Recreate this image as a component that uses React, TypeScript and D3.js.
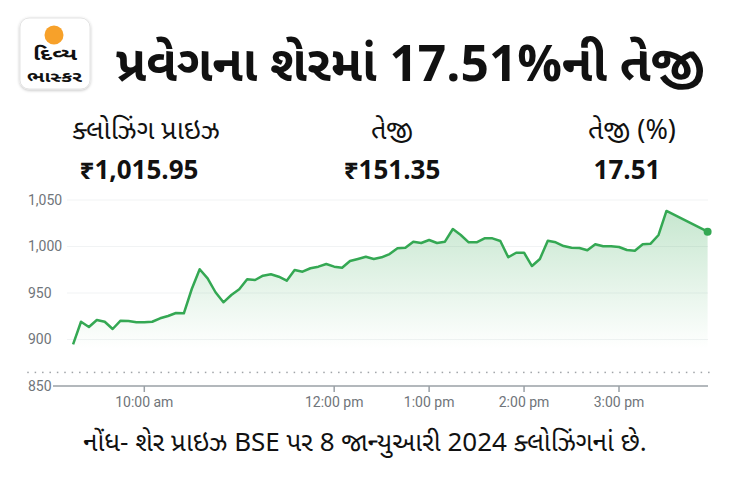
import React from "react";
import * as d3 from "d3";

const title = "પ્રવેગના શેરમાં 17.51%ની તેજી";
const statLabels = ["ક્લોઝિંગ પ્રાઇઝ", "તેજી", "તેજી (%)"];
const statValues = ["₹1,015.95", "₹151.35", "17.51"];
const footnote = "નોંધ- શેર પ્રાઇઝ BSE પર 8 જાન્યુઆરી 2024 ક્લોઝિંગનાં છે.";

const yTicks = [850, 900, 950, 1000, 1050];
const xTickMinutes = [600, 720, 780, 840, 900];
const xTickLabels = ["10:00 am", "12:00 pm", "1:00 pm", "2:00 pm", "3:00 pm"];
const previousClose = 864.6;

// 5-minute prices from 9:15 to 15:30
const prices = [
  894.8, 919.1, 913.4, 921.0, 919.1, 911.3, 920.2, 919.9, 918.5, 918.5,
  919.1, 922.8, 925.3, 928.5, 928.2, 954.3, 975.5, 965.8, 950.8, 940.0,
  947.8, 954.0, 964.7, 964.0, 968.6, 970.1, 967.5, 963.2, 974.7, 972.9,
  976.6, 978.3, 981.2, 978.3, 977.2, 984.4, 986.6, 989.0, 986.6, 988.4,
  991.9, 998.1, 998.7, 1005.2, 1003.8, 1007.0, 1003.8, 1005.2, 1018.8, 1012.4,
  1004.5, 1004.5, 1008.8, 1008.8, 1005.9, 988.4, 993.3, 993.3, 979.0, 986.6,
  1006.2, 1004.5, 1000.5, 998.7, 998.4, 995.9, 1002.4, 1000.2, 1000.2, 999.5,
  996.2, 995.5, 1002.4, 1003.0, 1012.4, 1038.2,
];
const closeMinute = 956;
const closePrice = 1015.95;

const startMinute = 555;
const data: { m: number; v: number }[] = prices.map((v, i) => ({ m: startMinute + i * 5, v }));
data.push({ m: closeMinute, v: closePrice });

const guj = "'Noto Sans Gujarati', 'Noto Sans', sans-serif";
const axisFont = "Roboto, 'Liberation Sans', Arial, sans-serif";

export default function App() {
  const x = d3.scaleLinear().domain([600, 900]).range([144.3, 619]);
  const y = d3.scaleLinear().domain([850, 1050]).range([386, 200]);
  const line = d3.line<{ m: number; v: number }>().x((d) => x(d.m)).y((d) => y(d.v));
  const area = d3
    .area<{ m: number; v: number }>()
    .x((d) => x(d.m))
    .y0(y(previousClose))
    .y1((d) => y(d.v));
  const last = data[data.length - 1];
  const dotXs = d3.range(28, 710, 7.4);

  return (
    <svg
      width={730}
      height={480}
      style={{ position: "absolute", left: 0, top: 0, background: "#fff" }}
    >
      <defs>
        <linearGradient id="fillG" x1="0" y1={y(1040)} x2="0" y2={y(890)} gradientUnits="userSpaceOnUse">
          <stop offset="0" stopColor="#34a853" stopOpacity={0.28} />
          <stop offset="1" stopColor="#34a853" stopOpacity={0} />
        </linearGradient>
        <filter id="sh" x="-20%" y="-20%" width="140%" height="140%">
          <feDropShadow dx="0" dy="1" stdDeviation="1.5" floodColor="#000" floodOpacity="0.25" />
        </filter>
      </defs>

      {/* logo */}
      <rect x={20} y={18} width={70} height={71} rx={9} fill="#fff" stroke="#e3e3e3" filter="url(#sh)" />
      <circle cx={54} cy={35} r={9.5} fill="#f7a12a" />
      <text x={55} y={60} textAnchor="middle" fontFamily={guj} fontWeight={700} fontSize={17} textLength={44} lengthAdjust="spacingAndGlyphs" fill="#111">
        દિવ્ય
      </text>
      <text x={54.5} y={82} textAnchor="middle" fontFamily={guj} fontWeight={700} fontSize={14} textLength={55} lengthAdjust="spacingAndGlyphs" fill="#111">
        ભાસ્કર
      </text>

      {/* title */}
      <text x={116} y={81} fontFamily={guj} fontWeight={700} fontSize={50} textLength={589} lengthAdjust="spacingAndGlyphs" fill="#111">
        {title}
      </text>

      {/* stats */}
      {[146, 392, 632].map((cx, i) => (
        <g key={i}>
          <text x={cx} y={139} textAnchor="middle" fontFamily={guj} fontSize={27} fill="#111">
            {statLabels[i]}
          </text>
          <text x={[139, 392, 627][i]} y={179} textAnchor="middle" fontFamily={guj} fontWeight={700} fontSize={26} fill="#111">
            {statValues[i]}
          </text>
        </g>
      ))}

      {/* gridlines */}
      {yTicks.slice(1).map((t) => (
        <line key={t} x1={67} x2={708} y1={y(t)} y2={y(t)} stroke="#f1f3f4" strokeWidth={1} />
      ))}
      {/* y labels */}
      {yTicks.map((t) => (
        <text key={t} x={28} y={y(t)} dy="0.35em" fontFamily={axisFont} fontSize={14} fill="#70757a">
          {d3.format(",")(t)}
        </text>
      ))}

      {/* area and line */}
      <path d={area(data) || ""} fill="url(#fillG)" />
      <path d={line(data) || ""} fill="none" stroke="#34a853" strokeWidth={2.5} strokeLinejoin="round" />
      <circle cx={x(last.m)} cy={y(last.v)} r={4} fill="#34a853" />

      {/* previous close dotted line */}
      {dotXs.map((dx, i) => (
        <rect key={i} x={dx - 0.75} y={y(previousClose) - 0.75} width={1.5} height={1.5} fill="#a0a4a8" />
      ))}

      {/* x axis */}
      <line x1={53} x2={708} y1={386} y2={386} stroke="#9aa0a6" strokeWidth={1.5} />
      {xTickMinutes.map((m, i) => (
        <g key={m}>
          <line x1={x(m)} x2={x(m)} y1={386} y2={392} stroke="#9aa0a6" strokeWidth={1.5} />
          <text x={x(m)} y={407} textAnchor="middle" fontFamily={axisFont} fontSize={14} fill="#70757a">
            {xTickLabels[i]}
          </text>
        </g>
      ))}

      {/* footnote */}
      <text x={365} y={451} textAnchor="middle" fontFamily={guj} fontSize={26} fill="#111">
        {footnote}
      </text>
    </svg>
  );
}
